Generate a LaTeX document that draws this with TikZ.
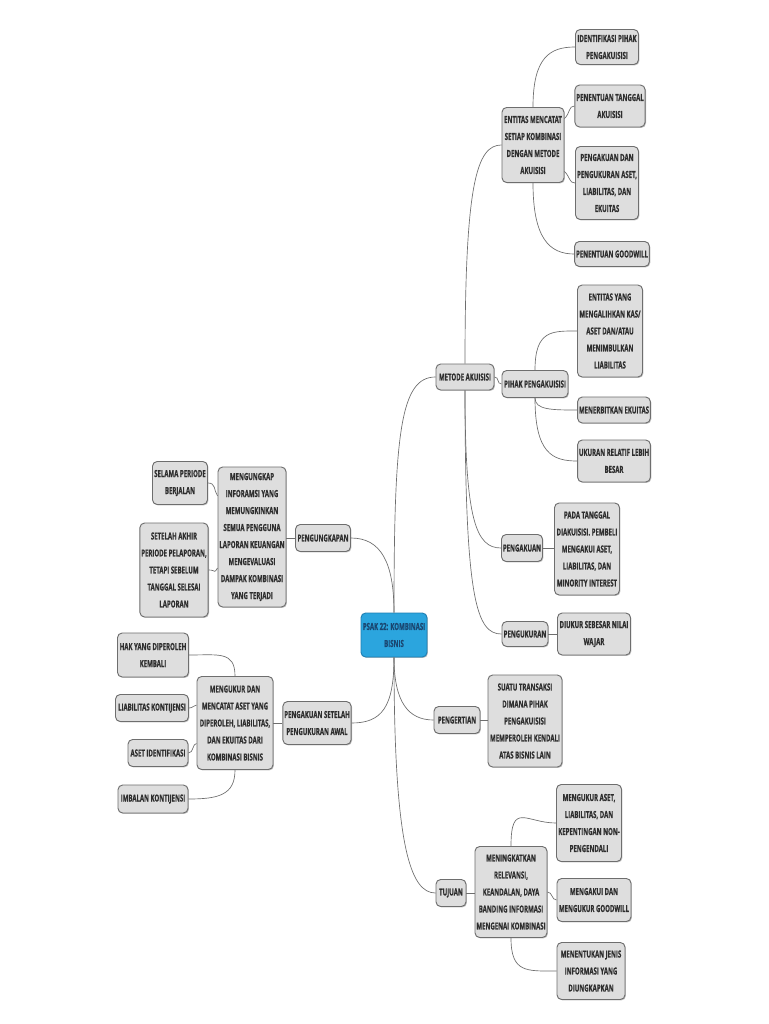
\documentclass[tikz,border=0pt]{standalone}
\usepackage{fontspec}
\newfontfamily\cond{Open Sans}[FakeStretch=0.62, BoldFeatures={FakeBold=0.6}]
\usetikzlibrary{shadows}
\definecolor{boxfill}{HTML}{DEDEDE}
\definecolor{boxdraw}{HTML}{6E6E6E}
\definecolor{txt}{HTML}{2E2E2E}
\definecolor{conn}{HTML}{6E6E6E}
\definecolor{cfill}{HTML}{2BA5DE}
\definecolor{cdraw}{HTML}{1F7FB3}
\definecolor{ctxt}{HTML}{1A4670}
\begin{document}
\begin{tikzpicture}[x=0.75pt,y=-0.75pt,
 box/.style={draw=boxdraw, fill=boxfill, line width=0.7pt, rounded corners=3.5pt, align=center, text=txt,
   font=\cond\bfseries\fontsize{7.3}{12.75}\selectfont, inner sep=1pt,
   drop shadow={shadow xshift=0.7pt, shadow yshift=-0.7pt, opacity=0.25, fill=black}},
 wh/.style 2 args={minimum width=#1*0.75pt, minimum height=#2*0.75pt},
 con/.style={draw=conn, line width=0.5pt}]
\fill[white] (0,0) rectangle (768,1024);
\useasboundingbox (0,0) rectangle (768,1024);

% centre
\node[box, fill=cfill, draw=cdraw, text=ctxt, wh={66}{44}] (c) at (394,635) {PSAK 22: KOMBINASI\\BISNIS};

% right, level 1
\node[box, wh={58}{26}] (metode) at (465,377) {METODE AKUISISI};
\node[box, wh={46}{27}] (pengertian) at (457,720) {PENGERTIAN};
\node[box, wh={30}{27}] (tujuan) at (451,893) {TUJUAN};

% level 2 under metode
\node[box, wh={62}{75}] (entitas) at (533,145) {ENTITAS MENCATAT\\SETIAP KOMBINASI\\DENGAN METODE\\AKUISISI};
\node[box, wh={66}{27}] (pihak) at (535,384) {PIHAK PENGAKUISISI};
\node[box, wh={41}{27}] (pengakuan) at (522,548) {PENGAKUAN};
\node[box, wh={46}{25}] (pengukuran) at (525,634) {PENGUKURAN};

% level 3
\node[box, wh={63}{35}] (identifikasi) at (607,47) {IDENTIFIKASI PIHAK\\PENGAKUISISI};
\node[box, wh={70}{42}] (tanggal) at (610,106) {PENENTUAN TANGGAL\\AKUISISI};
\node[box, wh={63}{73}] (pengakuandan) at (607,183) {PENGAKUAN DAN\\PENGUKURAN ASET,\\LIABILITAS, DAN\\EKUITAS};
\node[box, wh={74}{25}] (goodwill) at (612,254) {PENENTUAN GOODWILL};
\node[box, wh={65}{92}] (entitasyang) at (610,331) {ENTITAS YANG\\MENGALIHKAN KAS/\\ASET DAN/ATAU\\MENIMBULKAN\\LIABILITAS};
\node[box, wh={72}{26}] (menerbitkan) at (614,410) {MENERBITKAN EKUITAS};
\node[box, wh={72}{42}] (ukuran) at (614,461) {UKURAN RELATIF LEBIH\\BESAR};
\node[box, wh={65}{92}] (pada) at (587,549) {PADA TANGGAL\\DIAKUISISI. PEMBELI\\MENGAKUI ASET,\\LIABILITAS, DAN\\MINORITY INTEREST};
\node[box, wh={73}{42}] (diukur) at (594,634) {DIUKUR SEBESAR NILAI\\WAJAR};
\node[box, wh={74}{92}] (suatu) at (525,721) {SUATU TRANSAKSI\\DIMANA PIHAK\\PENGAKUISISI\\MEMPEROLEH KENDALI\\ATAS BISNIS LAIN};
\node[box, wh={72}{91}] (meningkatkan) at (511,892) {MENINGKATKAN\\RELEVANSI,\\KEANDALAN, DAYA\\BANDING INFORMASI\\MENGENAI KOMBINASI};
\node[box, wh={65}{77}] (mengukuraset) at (589,823) {MENGUKUR ASET,\\LIABILITAS, DAN\\KEPENTINGAN NON-\\PENGENDALI};
\node[box, wh={74}{43}] (mengakui) at (594,900) {MENGAKUI DAN\\MENGUKUR GOODWILL};
\node[box, wh={68}{57}] (menentukan) at (591,971) {MENENTUKAN JENIS\\INFORMASI YANG\\DIUNGKAPKAN};

% left side
\node[box, wh={55}{27}] (pengungkapan) at (323,538) {PENGUNGKAPAN};
\node[box, wh={68}{140}] (mengungkap) at (252,537) {MENGUNGKAP\\INFORAMSI YANG\\MEMUNGKINKAN\\SEMUA PENGGUNA\\LAPORAN KEUANGAN\\MENGEVALUASI\\DAMPAK KOMBINASI\\YANG TERJADI};
\node[box, wh={55}{43}] (selama) at (180,483) {SELAMA PERIODE\\BERJALAN};
\node[box, wh={68}{94}] (setelah) at (174,570) {SETELAH AKHIR\\PERIODE PELAPORAN,\\TETAPI SEBELUM\\TANGGAL SELESAI\\LAPORAN};
\node[box, wh={68}{43}] (pengakuansetelah) at (317,723) {PENGAKUAN SETELAH\\PENGUKURAN AWAL};
\node[box, wh={76}{93}] (mengukur) at (235,723) {MENGUKUR DAN\\MENCATAT ASET YANG\\DIPEROLEH, LIABILITAS,\\DAN EKUITAS DARI\\KOMBINASI BISNIS};
\node[box, wh={71}{44}] (hak) at (153,655) {HAK YANG DIPEROLEH\\KEMBALI};
\node[box, wh={73}{27}] (liabilitas) at (152,708) {LIABILITAS KONTIJENSI};
\node[box, wh={60}{27}] (aset) at (158,753) {ASET IDENTIFIKASI};
\node[box, wh={70}{28}] (imbalan) at (153,799) {IMBALAN KONTIJENSI};

% connectors from centre
\draw[con] (c.north) .. controls +(0,-180) and +(-35,0) .. (metode.west);
\draw[con] (c.north) .. controls +(0,-50) and +(30,0) .. (pengungkapan.east);
\draw[con] (c.south) .. controls +(0,50) and +(30,0) .. (pengakuansetelah.east);
\draw[con] (c.south) .. controls +(0,45) and +(-25,0) .. (pengertian.west);
\draw[con] (c.south) .. controls +(0,190) and +(-25,0) .. (tujuan.west);

% metode
\draw[con] (metode.north) .. controls +(0,-180) and +(-25,0) .. (entitas.west);
\draw[con] (metode.east) .. controls +(5,0) and +(-5,0) .. (pihak.west);
\draw[con] (metode.south) .. controls +(0,130) and +(-25,0) .. (pengakuan.west);
\draw[con] (metode.south) .. controls +(0,210) and +(-25,0) .. (pengukuran.west);

% entitas
\draw[con] (entitas.north) .. controls +(0,-50) and +(-25,0) .. (identifikasi.west);
\draw[con] (entitas.40) .. controls +(6,-6) and +(-6,0) .. (tanggal.west);
\draw[con] (entitas.-40) .. controls +(6,6) and +(-6,0) .. (pengakuandan.west);
\draw[con] (entitas.south) .. controls +(0,55) and +(-25,0) .. (goodwill.west);

% pihak
\draw[con] (pihak.north) .. controls +(0,-40) and +(-25,0) .. (entitasyang.west);
\draw[con] (pihak.south) .. controls +(0,12) and +(-25,0) .. (menerbitkan.west);
\draw[con] (pihak.south) .. controls +(0,55) and +(-25,0) .. (ukuran.west);

\draw[con] (pengakuan.east) -- (pada.west |- pengakuan.east);
\draw[con] (pengukuran.east) -- (diukur.west |- pengukuran.east);
\draw[con] (pengertian.east) -- (suatu.west |- pengertian.east);
\draw[con] (tujuan.east) -- (meningkatkan.west |- tujuan.east);

% meningkatkan
\draw[con] (meningkatkan.north) .. controls +(0,-45) and +(-30,0) .. (mengukuraset.west);
\draw[con] (meningkatkan.east) .. controls +(5,0) and +(-5,0) .. (mengakui.west);
\draw[con] (meningkatkan.south) .. controls +(0,35) and +(-30,0) .. (menentukan.west);

% left
\draw[con] (pengungkapan.west) -- (mengungkap.east |- pengungkapan.west);
\draw[con] (selama.east) .. controls +(8,0) and +(-4,-6) .. (mengungkap.130);
\draw[con] (setelah.east) .. controls +(8,0) and +(-4,6) .. (mengungkap.222);
\draw[con] (pengakuansetelah.west) -- (mengukur.east |- pengakuansetelah.west);
\draw[con] (hak.east) .. controls +(30,0) and +(0,-25) .. (mengukur.north);
\draw[con] (liabilitas.east) .. controls +(5,0) and +(-4,0) .. (mengukur.155);
\draw[con] (aset.east) .. controls +(5,0) and +(-4,0) .. (mengukur.208);
\draw[con] (imbalan.east) .. controls +(30,0) and +(0,25) .. (mengukur.south);
\end{tikzpicture}
\end{document}
